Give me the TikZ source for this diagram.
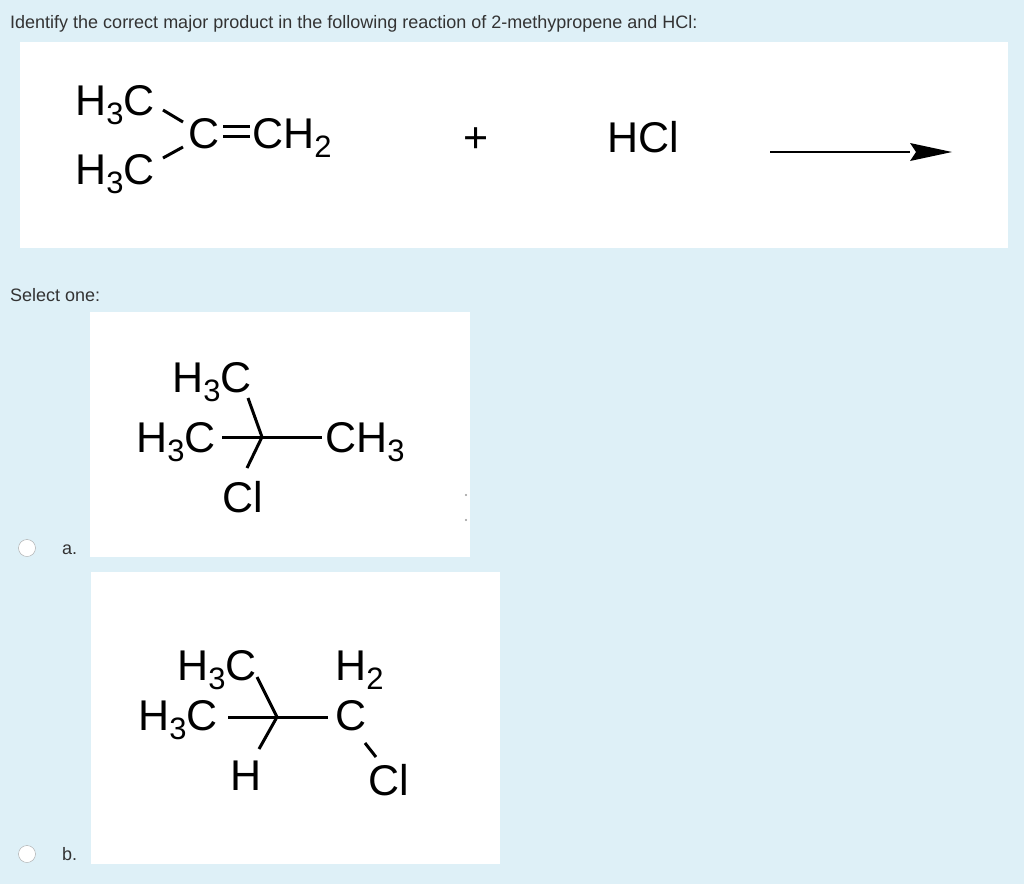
\documentclass[tikz,border=0pt]{standalone}
\usepackage{fontspec}
\setmainfont{Liberation Sans}
\newcommand\subn[1]{\raisebox{-0.22em}{\scalebox{0.72}{#1}}}
\begin{document}
\begin{tikzpicture}[x=1pt,y=-1pt,
  txt/.style={anchor=base west,inner sep=0pt,font=\fontsize{18}{22}\selectfont,text=black!80},
  chem/.style={anchor=base west,inner sep=0pt,font=\fontsize{43}{50}\selectfont},
  bond/.style={line width=3pt},
  radio/.style={circle,draw=black!35,fill=white,minimum size=17pt,inner sep=0pt}]
\fill[fill={rgb,255:red,222;green,240;blue,247}] (0,0) rectangle (1024,884);
\useasboundingbox (0,0) rectangle (1024,884);
\fill[white] (20,42) rectangle (1008,248);
\fill[white] (90,312) rectangle (470,557);
\fill[white] (91,572) rectangle (500,864);
\node[txt] (q) at (10,28) {Identify the correct major product in the following reaction of 2-methypropene and HCl:};
\node[txt] (sel) at (10,301) {Select one:};
% reactant
\node[chem] (r1) at (75,115) {H\subn{3}C};
\node[chem] (r2) at (75,184) {H\subn{3}C};
\node[chem] (rc) at (188,148) {C};
\node[chem] (rch) at (252,148) {CH\subn{2}};
\draw[bond] (163,110) -- (183,122);
\draw[bond] (163,158) -- (183,147);
\draw[bond] (223,126) -- (250,126);
\draw[bond] (223,136) -- (250,136);
\node[chem] (plus) at (463,152) {+};
\node[chem] (hcl) at (607,152) {HCl};
\coordinate (a1) at (770,152);
\coordinate (a2) at (952,152);
\draw[line width=2pt] (a1) -- (910,152);
\fill (a2) -- (910,143) -- (916,152) -- (910,161) -- cycle;
% option a
\node[chem] (a3) at (172,392) {H\subn{3}C};
\node[chem] (a4) at (136,452) {H\subn{3}C};
\node[chem] (a5) at (325,452) {CH\subn{3}};
\node[chem] (a6) at (222,512) {Cl};
\coordinate (ac) at (262,437);
\draw[bond] (222,437) -- (322,437);
\draw[bond] (ac) -- (248,398);
\draw[bond] (ac) -- (247,468);
\fill[black!40] (466,495) circle (1.2) (466,520) circle (1.2);
\node[radio] (ra) at (27,548) {};
\node[txt] (la) at (62,554) {a.};
% option b
\node[chem] (b1) at (177,680) {H\subn{3}C};
\node[chem] (b2) at (138,730) {H\subn{3}C};
\node[chem] (b3) at (230,790) {H};
\node[chem] (b4) at (335,680) {H\subn{2}};
\node[chem] (b5) at (335,730) {C};
\node[chem] (b6) at (368,795) {Cl};
\coordinate (bc) at (277,717);
\draw[bond] (228,717) -- (328,717);
\draw[bond] (bc) -- (257,677);
\draw[bond] (bc) -- (259,749);
\draw[bond] (365,743) -- (376,757);
\node[radio] (rb) at (27,854) {};
\node[txt] (lb) at (62,860) {b.};
\end{tikzpicture}
\end{document}
